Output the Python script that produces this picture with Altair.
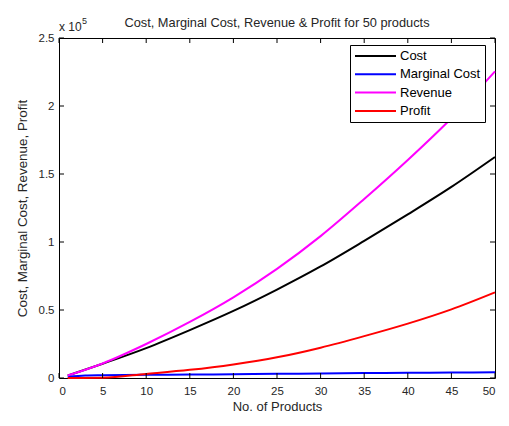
import altair as alt
import pandas as pd

# ---- data ----
products = [1, 5, 10, 15, 20, 25, 30, 35, 40, 45, 50]
cost = [1800, 10500, 22000, 35200, 49300, 65000, 82000, 100800, 120300, 140500, 162500]
revenue = [1800, 10700, 25000, 41200, 59300, 80200, 104300, 131600, 160300, 191000, 225500]
profit = [0, 200, 3000, 6000, 10000, 15200, 22300, 30800, 40000, 50500, 63000]
mc_products = [1, 3, 5, 10, 15, 20, 25, 30, 35, 40, 45, 50]
marginal_cost = [900, 1800, 2000, 2300, 2500, 2800, 3100, 3300, 3600, 3800, 4000, 4200]

series_names = ["Cost", "Marginal Cost", "Revenue", "Profit"]
series_colors = ["#000000", "#0000ff", "#ff00ff", "#ff0000"]

x_ticks = [0, 5, 10, 15, 20, 25, 30, 35, 40, 45, 50]
y_ticks = [0, 50000, 100000, 150000, 200000, 250000]

title_text = "Cost, Marginal Cost, Revenue & Profit for 50 products"
x_title = "No. of Products"
y_title = "Cost, Marginal Cost, Revenue, Profit"

# ---- build table ----
rows = []
for name, xs, ys in [("Cost", products, cost),
                     ("Marginal Cost", mc_products, marginal_cost),
                     ("Revenue", products, revenue),
                     ("Profit", products, profit)]:
    for xv, yv in zip(xs, ys):
        rows.append({"x": xv, "y": yv, "series": name, "order": series_names.index(name)})
df = pd.DataFrame(rows)

W, H = 436, 340
FONT = "Liberation Sans"
TXT = "#262626"

xscale = alt.Scale(domain=[0, 50], nice=False, zero=False)
yscale = alt.Scale(domain=[0, 250000], nice=False)

lines = alt.Chart(df).mark_line(strokeWidth=2, interpolate="monotone").encode(
    x=alt.X("x:Q", scale=xscale,
            axis=alt.Axis(values=x_ticks, title=x_title, tickSize=0, labelPadding=7,
                          titlePadding=4, titleFontSize=13, grid=False, domain=False)),
    y=alt.Y("y:Q", scale=yscale,
            axis=alt.Axis(values=y_ticks, title=y_title, tickSize=0, labelPadding=5,
                          titlePadding=9, titleFontSize=13.4, grid=False, domain=False,
                          labelExpr="datum.value / 100000")),
    color=alt.Color("series:N",
                    scale=alt.Scale(domain=series_names, range=series_colors),
                    legend=alt.Legend(title=None, orient="none", legendX=291, legendY=7,
                                      symbolType="stroke", symbolSize=1681,
                                      symbolStrokeWidth=2, clipHeight=14,
                                      rowPadding=4.3, padding=4, labelOffset=3,
                                      strokeColor="black", fillColor="white",
                                      labelFont=FONT, labelFontSize=13,
                                      labelColor="black")),
    detail="series:N",
    order="order:Q",
)

xt = pd.DataFrame({"t": x_ticks})
yt = pd.DataFrame({"t": y_ticks})
tick_len = 5
bottom_ticks = alt.Chart(xt).mark_rule(color="black", strokeWidth=1).encode(
    x=alt.X("t:Q", scale=xscale), y=alt.value(H), y2=alt.value(H - tick_len))
top_ticks = alt.Chart(xt).mark_rule(color="black", strokeWidth=1).encode(
    x=alt.X("t:Q", scale=xscale), y=alt.value(0), y2=alt.value(tick_len))
left_ticks = alt.Chart(yt).mark_rule(color="black", strokeWidth=1).encode(
    y=alt.Y("t:Q", scale=yscale), x=alt.value(0), x2=alt.value(tick_len))
right_ticks = alt.Chart(yt).mark_rule(color="black", strokeWidth=1).encode(
    y=alt.Y("t:Q", scale=yscale), x=alt.value(W), x2=alt.value(W - tick_len))

txt_df = pd.DataFrame({"a": ["x 10"], "b": ["5"], "t": [title_text]})
exp_base = alt.Chart(txt_df).mark_text(align="left", baseline="alphabetic", font=FONT,
                                       fontSize=12, color=TXT).encode(
    text="a:N", x=alt.value(0), y=alt.value(-7))
exp_sup = alt.Chart(txt_df).mark_text(align="left", baseline="alphabetic", font=FONT,
                                      fontSize=9, color=TXT).encode(
    text="b:N", x=alt.value(23), y=alt.value(-14))
title_mark = alt.Chart(txt_df).mark_text(align="center", baseline="alphabetic", font=FONT,
                                         fontSize=12.8, color=TXT).encode(
    text="t:N", x=alt.value(W / 2), y=alt.value(-11))

chart = alt.layer(lines, bottom_ticks, top_ticks, left_ticks, right_ticks,
                  exp_base, exp_sup, title_mark).properties(
    width=W, height=H,
    padding={"left": 51, "top": 30, "right": 6, "bottom": 40},
    autosize=alt.AutoSizeParams(type="none"),
    background="white",
).configure_view(stroke="black", strokeWidth=1).configure_axis(
    labelFont=FONT, labelFontSize=11.5, labelColor=TXT,
    titleFont=FONT, titleColor=TXT, titleFontWeight="normal",
)

chart.save("out.html", embed_options={"renderer": "svg", "actions": False})
